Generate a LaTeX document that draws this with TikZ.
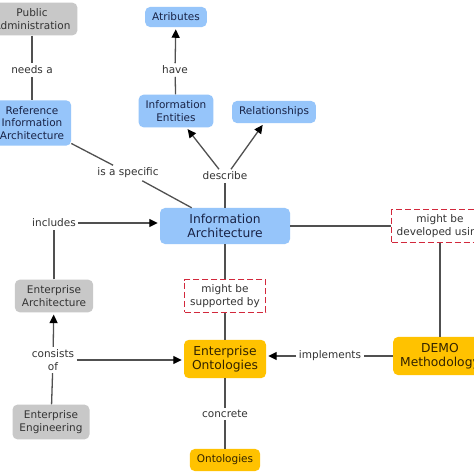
\documentclass[tikz,border=0pt]{standalone}
\usepackage{fontspec}
\setmainfont{DejaVu Sans}
\usetikzlibrary{arrows.meta}
\definecolor{conceptBlue}{RGB}{150,197,250}
\definecolor{conceptGray}{RGB}{200,200,200}
\definecolor{conceptOrange}{RGB}{255,194,0}
\definecolor{dashRed}{RGB}{210,40,60}
\definecolor{linkGray}{RGB}{80,80,80}
\definecolor{inkBlue}{RGB}{25,35,70}
\definecolor{inkBrown}{RGB}{50,35,0}
\begin{document}
\begin{tikzpicture}[x=1pt,y=-1pt,
    concept/.style={rounded corners=5pt, align=center, inner xsep=7pt, inner ysep=6pt,
        font=\fontsize{10.5}{12.6}\selectfont},
    blue/.style={concept, fill=conceptBlue, text=inkBlue},
    gray/.style={concept, fill=conceptGray, text=black!80},
    gold/.style={concept, fill=conceptOrange, text=inkBrown},
    big/.style={font=\fontsize{12.3}{14.5}\selectfont},
    maybe/.style={draw=dashRed, line width=1.4pt, dash pattern=on 6pt off 3pt,
        align=center, inner sep=5pt, text=black!80, font=\fontsize{10.5}{12.6}\selectfont},
    link/.style={align=center, inner sep=2.5pt, text=black!80, font=\fontsize{10.5}{12.6}\selectfont},
    line/.style={draw=linkGray, line width=1.3pt},
    arr/.style={line, -{Triangle[length=8.5pt,width=8pt,color=black]}, shorten >=2pt}]

            \useasboundingbox (0,0) rectangle (474,474);
            \fill[white] (0,0) rectangle (474,474);
            \clip (0,0) rectangle (474,474);

            % top left
            \node[gray] (pa) at (32,19) {Public\\Administration};
            \node[link] (needs) at (32,70) {needs a};
            \node[blue] (ria) at (32,123) {Reference\\Information\\Architecture};
            \node[link] (isa) at (128,173) {is a specific};

            % information side
            \node[blue] (atr) at (176,17) {Atributes};
            \node[link] (have) at (175,70) {have};
            \node[blue] (ie) at (176,111) {Information\\Entities};
            \node[blue] (rel) at (274,112) {Relationships};
            \node[link] (describe) at (225,176) {describe};
            \node[blue, big, minimum width=130pt] (ia) at (225,226) {Information\\Architecture};

            % enterprise side
            \node[link] (includes) at (54,223) {includes};
            \node[gray] (ea) at (54,296) {Enterprise\\Architecture};
            \node[link] (consists) at (53,360) {consists\\of};
            \node[gray] (ee) at (51,422) {Enterprise\\Engineering};

            % ontologies
            \node[maybe, minimum width=81pt] (supp) at (225,296) {might be\\supported by};
            \node[gold, big, minimum width=82pt] (eo) at (225,359) {Enterprise\\Ontologies};
            \node[link] (concrete) at (225,414) {concrete};
            \node[gold] (onto) at (225,460) {Ontologies};

            % DEMO
            \node[maybe] (dev) at (440,226) {might be\\developed using};
            \node[gold, big] (demo) at (440,356) {DEMO\\Methodology};
            \node[link] (impl) at (330,356) {implements};

            % connectors
            \draw[line] (pa) -- (needs);
            \draw[line] (needs) -- (ria);
            \draw[line] (ria) -- (isa);
            \draw[line] (isa) -- (ia);
            \draw[line] (ie) -- (have);
            \draw[arr] (have) -- (atr);
            \draw[line] (ia) -- (describe);
            \draw[arr] ([xshift=-6pt]describe.north) -- (ie.-58);
            \draw[arr] ([xshift=6pt]describe.north) -- (rel.-132);
            \draw[arr] (includes) -- (includes -| ia.west);
            \draw[line] (ea) -- (includes);
            \draw[arr] (consists) -- (ea);
            \draw[line] (consists) -- (ee);
            \draw[arr] (consists) -- (consists -| eo.west);
            \draw[line] (ia) -- (supp);
            \draw[line] (supp) -- (eo);
            \draw[line] (eo) -- (concrete);
            \draw[line] (concrete) -- (onto);
            \draw[line] (ia) -- (dev);
            \draw[line] (dev) -- (demo);
            \draw[line] (demo) -- (impl);
            \draw[arr] (impl) -- (impl -| eo.east);

        \end{tikzpicture}
\end{document}
